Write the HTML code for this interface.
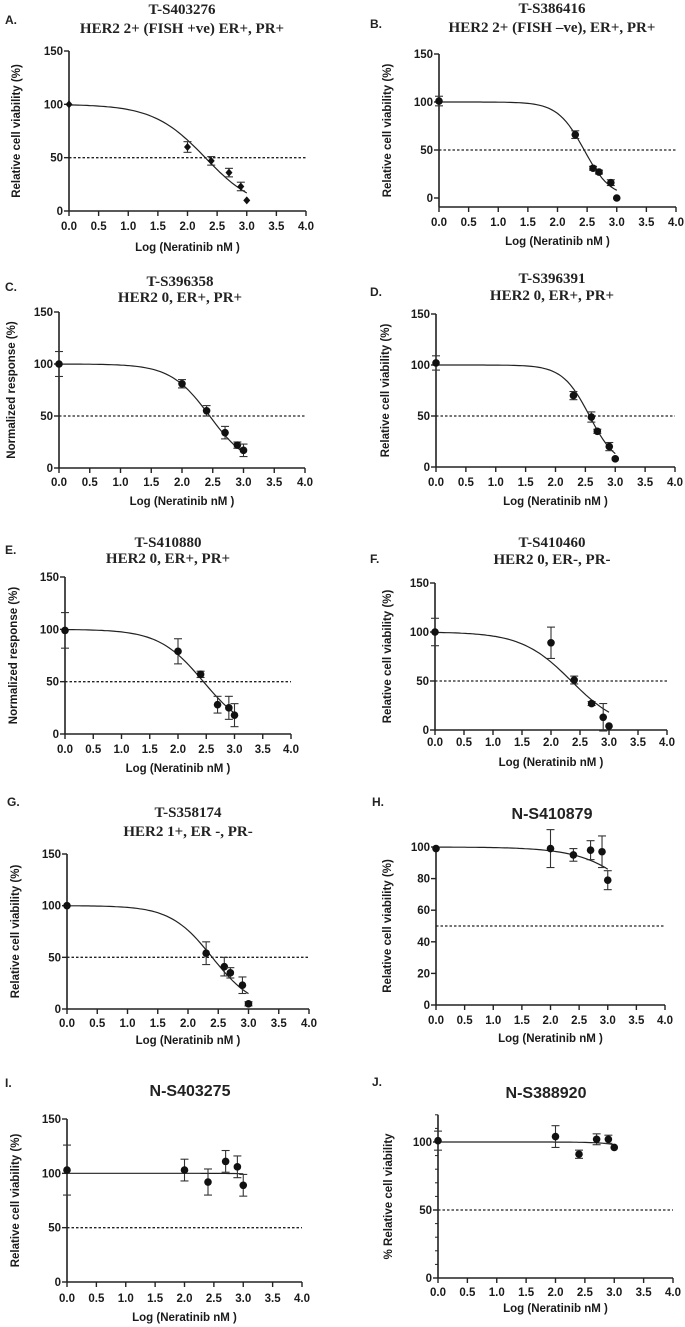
<!DOCTYPE html>
<html><head><meta charset="utf-8"><style>
html,body{margin:0;padding:0;background:#fff;}
svg{display:block;}
.tk{font-family:"Liberation Sans",sans-serif;font-weight:bold;font-size:11.5px;fill:#1a1a1a;}
.ax{font-family:"Liberation Sans",sans-serif;font-weight:bold;font-size:11.5px;fill:#1a1a1a;}
.ts{font-family:"Liberation Serif",serif;font-weight:bold;font-size:15px;fill:#222;}
.tn{font-family:"Liberation Sans",sans-serif;font-weight:bold;font-size:16px;fill:#222;}
.lt{font-family:"Liberation Sans",sans-serif;font-weight:bold;font-size:12px;fill:#222;}
</style></head><body>
<svg id="fig" width="685" height="1327" viewBox="0 0 685 1327" xmlns="http://www.w3.org/2000/svg"></svg>
<script>
// ---- data (log Neratinib nM vs response %) ----
const xA = [0, 2, 2.4, 2.7, 2.9, 3];
const yA = [100, 60, 47, 36, 23, 10];
const eA = [0, 5, 4, 4, 4, 0];
const xB = [0, 2.3, 2.6, 2.7, 2.9, 3];
const yB = [101, 66, 31, 27, 16, 0];
const eB = [5, 4, 2, 2, 3, 0];
const xC = [0, 2, 2.4, 2.7, 2.9, 3];
const yC = [100, 81, 55, 34, 22, 17];
const eC = [12, 4, 5, 6, 3, 6];
const xD = [0, 2.3, 2.6, 2.7, 2.9, 3];
const yD = [102, 70, 49, 35, 20, 8];
const eD = [7, 4, 5, 2, 4, 0];
const xE = [0, 2, 2.4, 2.7, 2.9, 3];
const yE = [99, 79, 57, 28, 25, 18];
const eE = [17, 12, 3, 8, 11, 11];
const xF = [0, 2, 2.4, 2.7, 2.9, 3];
const yF = [100, 89, 51, 27, 13, 4];
const eF = [14, 16, 4, 2, 14, 0];
const xG = [0, 2.3, 2.6, 2.7, 2.9, 3];
const yG = [100, 54, 41, 35, 23, 5];
const eG = [0, 11, 9, 5, 8, 2];
const xH = [0, 2, 2.4, 2.7, 2.9, 3];
const yH = [99, 99, 95, 98, 97, 79];
const eH = [0, 12, 4, 6, 10, 6];
const xI = [0, 2, 2.4, 2.7, 2.9, 3];
const yI = [103, 103, 92, 111, 106, 89];
const eI = [23, 10, 12, 10, 10, 10];
const xJ = [0, 2, 2.4, 2.7, 2.9, 3];
const yJ = [101, 104, 91, 102, 102, 96];
const eJ = [7, 8, 3, 4, 3, 0];
// curve fit params: [logIC50, hill]
const fitA = [2.3, 0.99];
const fitB = [2.45, 1.93];
const fitC = [2.45, 1.37];
const fitD = [2.57, 1.92];
const fitE = [2.45, 1.1];
const fitF = [2.35, 1.01];
const fitG = [2.4, 1.26];
const fitH = [3.96, 0.82];
const fitI = [4.2, 2.0];
const fitJ = [4.0, 1.7];
const xTicks = [0, 0.5, 1, 1.5, 2, 2.5, 3, 3.5, 4];
const yTicks150 = [0, 50, 100, 150];
const yTicksH = [0, 20, 40, 60, 80, 100];
const yTicksJ = [0, 50, 100];

const NS = "http://www.w3.org/2000/svg";
const svg = document.getElementById('fig');
function mk(tag, attrs, parent, txt){
  const e = document.createElementNS(NS, tag);
  for (const k in attrs) e.setAttribute(k, attrs[k]);
  if (txt !== undefined) e.textContent = txt;
  (parent || svg).appendChild(e);
  return e;
}
const panels = [
 {id:'a',L:'A.',lx:5,ly:24,t:['T-S403276','HER2 2+ (FISH +ve) ER+, PR+'],tc:182,ty:[14,33],serif:true,
  x0:69,x4:306,yb:211,yt:51,ymax:150,axisY:211,yt2:yTicks150,yl:'Relative cell viability (%)',ylx:20,xly:251,xty:230,
  xs:xA,ys:yA,es:eA,fit:fitA,diamond:true},
 {id:'b',L:'B.',lx:370,ly:28,t:['T-S386416','HER2 2+ (FISH \u2013ve), ER+, PR+'],tc:552,ty:[13,32],serif:true,
  x0:439,x4:676,yb:198,yt:54,ymax:150,axisY:207,yt2:yTicks150,yl:'Relative cell viability (%)',ylx:391,xly:245,xty:226,
  xs:xB,ys:yB,es:eB,fit:fitB},
 {id:'c',L:'C.',lx:5,ly:291,t:['T-S396358','HER2 0, ER+, PR+'],tc:180,ty:[286,302],serif:true,
  x0:59,x4:305,yb:468,yt:312,ymax:150,axisY:468,yt2:yTicks150,yl:'Normalized response (%)',ylx:15,xly:505,xty:486,
  xs:xC,ys:yC,es:eC,fit:fitC},
 {id:'d',L:'D.',lx:370,ly:296,t:['T-S396391','HER2 0, ER+, PR+'],tc:552,ty:[283,300],serif:true,
  x0:436,x4:675,yb:467,yt:314,ymax:150,axisY:467,yt2:yTicks150,yl:'Relative cell viability (%)',ylx:389,xly:505,xty:486,
  xs:xD,ys:yD,es:eD,fit:fitD},
 {id:'e',L:'E.',lx:5,ly:554,t:['T-S410880','HER2 0, ER+, PR+'],tc:168,ty:[547,563],serif:true,
  x0:65,x4:291,yb:734,yt:577,ymax:150,axisY:734,yt2:yTicks150,yl:'Normalized response (%)',ylx:17,xly:772,xty:753,
  xs:xE,ys:yE,es:eE,fit:fitE},
 {id:'f',L:'F.',lx:370,ly:563,t:['T-S410460','HER2 0, ER-, PR-'],tc:552,ty:[547,564],serif:true,
  x0:435,x4:667,yb:730,yt:583,ymax:150,axisY:730,yt2:yTicks150,yl:'Relative cell viability (%)',ylx:391,xly:766,xty:746,
  xs:xF,ys:yF,es:eF,fit:fitF},
 {id:'g',L:'G.',lx:7,ly:806,t:['T-S358174','HER2 1+, ER -, PR-'],tc:188,ty:[817,836],serif:true,
  x0:67,x4:309,yb:1009,yt:854,ymax:150,axisY:1009,yt2:yTicks150,yl:'Relative cell viability (%)',ylx:19,xly:1044,xty:1027,
  xs:xG,ys:yG,es:eG,fit:fitG},
 {id:'h',L:'H.',lx:372,ly:806,t:['N-S410879'],tc:552,ty:[819],serif:false,
  x0:436,x4:665,yb:1005,yt:847,ymax:100,axisY:1005,yt2:yTicksH,yl:'Relative cell viability (%)',ylx:391,xly:1042,xty:1024,
  xs:xH,ys:yH,es:eH,fit:fitH},
 {id:'i',L:'I.',lx:5,ly:1087,t:['N-S403275'],tc:190,ty:[1096],serif:false,
  x0:67,x4:302,yb:1282,yt:1119,ymax:150,axisY:1282,yt2:yTicks150,yl:'Relative cell viability (%)',ylx:19,xly:1321,xty:1302,
  xs:xI,ys:yI,es:eI,fit:fitI},
 {id:'j',L:'J.',lx:372,ly:1086,t:['N-S388920'],tc:546,ty:[1098],serif:false,
  x0:438,x4:673,yb:1278,yt:1142,ymax:100,ytop:120,axisY:1278,yt2:yTicksJ,minor:10,yl:'% Relative cell viability',ylx:392,xly:1312,xty:1296,
  xs:xJ,ys:yJ,es:eJ,fit:fitJ}
];

panels.forEach(p=>{
  const g = mk('g',{});
  
  
  const sx = v => p.x0 + (p.x4-p.x0)*v/4;
  const sy = v => p.yb - (p.yb-p.yt)*v/p.ymax;
  const lab = mk('text',{x:p.lx,y:p.ly,class:'lt'},g,p.L);
  
  
  p.t.forEach((line,i)=>{
    const t = mk('text',{x:p.tc,y:p.ty[i],'text-anchor':'middle',class:p.serif?'ts':'tn'},g,line);
    
    
  });
  const topV = p.ytop || p.ymax;
  const ya = mk('line',{x1:p.x0,y1:sy(topV),x2:p.x0,y2:p.axisY,stroke:'#222','stroke-width':1.6},g);
  
  
  const xa = mk('line',{x1:p.x0,y1:p.axisY,x2:p.x4,y2:p.axisY,stroke:'#222','stroke-width':1.6},g);
  
  
  p.yt2.forEach(v=>{
    mk('line',{x1:p.x0-5,y1:sy(v),x2:p.x0,y2:sy(v),stroke:'#222','stroke-width':1.4},g);
    const t = mk('text',{x:p.x0-6,y:sy(v)+4,'text-anchor':'end',class:'tk'},g,String(v));
    
    
  });
  if (p.minor){
    for (let v=0; v<=topV; v+=p.minor){
      mk('line',{x1:p.x0-3,y1:sy(v),x2:p.x0,y2:sy(v),stroke:'#222','stroke-width':1},g);
    }
  }
  xTicks.forEach(v=>{
    mk('line',{x1:sx(v),y1:p.axisY,x2:sx(v),y2:p.axisY+5,stroke:'#222','stroke-width':1.4},g);
    const t = mk('text',{x:sx(v),y:p.xty,'text-anchor':'middle',class:'tk'},g,v.toFixed(1));
    
    
  });
  const xt = mk('text',{x:(p.x0+p.x4)/2,y:p.xly,'text-anchor':'middle',class:'ax'},g,'Log (Neratinib nM )');
  
  
  const cy = (sy(topV)+p.axisY)/2;
  const yt = mk('text',{x:p.ylx,y:cy,'text-anchor':'middle',class:'ax',transform:'rotate(-90 '+p.ylx+' '+cy+')'},g,p.yl);
  
  
  const ref = mk('line',{x1:p.x0,y1:sy(50),x2:p.x4,y2:sy(50),stroke:'#222','stroke-width':1.3,'stroke-dasharray':'2.5,2'},g);
  
  
  let d='';
  for (let i=0;i<=60;i++){
    const x = 3*i/60;
    const y = 100/(1+Math.pow(10,(x-p.fit[0])*p.fit[1]));
    d += (i?'L':'M')+sx(x).toFixed(1)+','+sy(y).toFixed(1);
  }
  const c = mk('path',{d:d,fill:'none',stroke:'#222','stroke-width':1.2},g);
  
  
  p.xs.forEach((xv,i)=>{
    const X=sx(xv), Y=sy(p.ys[i]), e=p.es[i];
    if (e>0){
      const y1=sy(p.ys[i]+e), y2=sy(p.ys[i]-e);
      mk('line',{x1:X,y1:y1,x2:X,y2:y2,stroke:'#333','stroke-width':1.1},g);
      mk('line',{x1:X-4,y1:y1,x2:X+4,y2:y1,stroke:'#333','stroke-width':1.1},g);
      mk('line',{x1:X-4,y1:y2,x2:X+4,y2:y2,stroke:'#333','stroke-width':1.1},g);
    }
    let m;
    if (p.diamond) m = mk('polygon',{points:`${X},${Y-4} ${X+3.5},${Y} ${X},${Y+4} ${X-3.5},${Y}`,fill:'#111'},g);
    else m = mk('circle',{cx:X,cy:Y,r:3.8,fill:'#111'},g);
    
    
  });
});
</script>
</body></html>
